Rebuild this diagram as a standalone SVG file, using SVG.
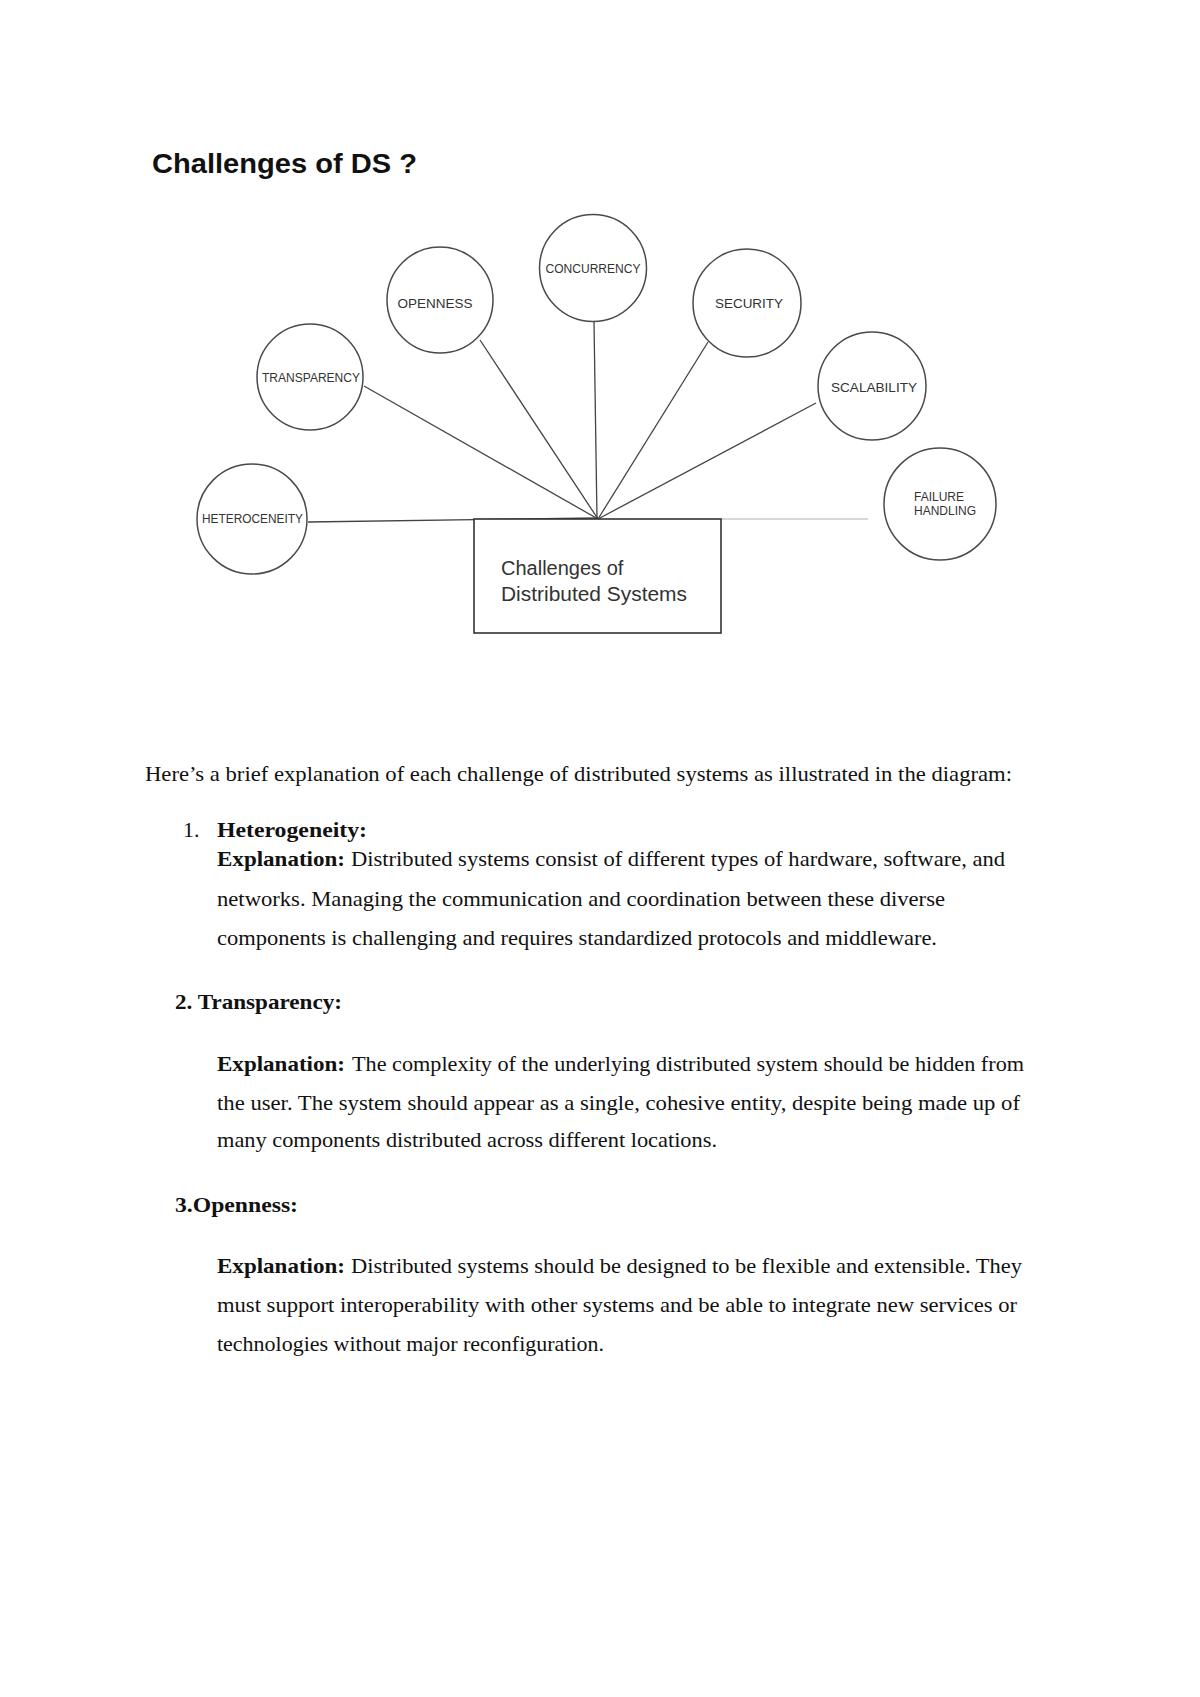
<svg xmlns="http://www.w3.org/2000/svg" width="1200" height="1697" viewBox="0 0 1200 1697">
<style>
.bg{fill:#ffffff}
.title{font-family:"Liberation Sans",Arial,sans-serif;font-weight:bold;font-size:28.5px;fill:#111}
.node circle{fill:#ffffff;stroke:#4a4a4a;stroke-width:1.5}
.lbl{font-family:"Liberation Sans",Arial,sans-serif;fill:#333;text-anchor:middle}
.lbl-l{font-family:"Liberation Sans",Arial,sans-serif;fill:#333;font-size:12px}
.box rect{fill:#ffffff;stroke:#333;stroke-width:1.6}
.boxt{font-family:"Liberation Sans",Arial,sans-serif;font-size:20px;fill:#333}
.conn line{stroke:#444;stroke-width:1.3}
.conn line.faint{stroke:#b0b0b0;stroke-width:1}
.body{font-family:"Liberation Serif","Times New Roman",serif;font-size:22px;fill:#111}
.b{font-weight:bold}
</style>
<rect class="bg" x="0" y="0" width="1200" height="1697"/>
<text class="title" x="152" y="173" textLength="265" lengthAdjust="spacingAndGlyphs">Challenges of DS ?</text>

<g id="connectors" class="conn">
<line x1="308" y1="522" x2="598" y2="518"/>
<line x1="364" y1="386" x2="598" y2="519"/>
<line x1="480" y1="340" x2="598" y2="519"/>
<line x1="594" y1="322" x2="597" y2="519"/>
<line x1="708" y1="342" x2="598" y2="519"/>
<line x1="816" y1="403" x2="598" y2="519"/>
<line class="faint" x1="721" y1="519" x2="868" y2="519"/>
</g>

<g id="node-center" class="box">
<rect x="474" y="519" width="247" height="114"/>
<text class="boxt" x="501" y="575">Challenges of</text>
<text class="boxt" x="501" y="601" textLength="186" lengthAdjust="spacingAndGlyphs">Distributed Systems</text>
</g>

<g id="node-concurrency" class="node">
<circle cx="593" cy="268" r="53.5"/>
<text class="lbl" x="593" y="273" font-size="12" textLength="95" lengthAdjust="spacingAndGlyphs">CONCURRENCY</text>
</g>
<g id="node-openness" class="node">
<circle cx="440" cy="300" r="53"/>
<text class="lbl" x="435" y="308" font-size="13" textLength="75" lengthAdjust="spacingAndGlyphs">OPENNESS</text>
</g>
<g id="node-security" class="node">
<circle cx="747" cy="303" r="54"/>
<text class="lbl" x="749" y="308" font-size="13" textLength="68" lengthAdjust="spacingAndGlyphs">SECURITY</text>
</g>
<g id="node-transparency" class="node">
<circle cx="310" cy="377" r="53"/>
<text class="lbl" x="311" y="382" font-size="12" textLength="98" lengthAdjust="spacingAndGlyphs">TRANSPARENCY</text>
</g>
<g id="node-scalability" class="node">
<circle cx="872" cy="386" r="54"/>
<text class="lbl" x="874" y="392" font-size="13" textLength="86" lengthAdjust="spacingAndGlyphs">SCALABILITY</text>
</g>
<g id="node-heterogeneity" class="node">
<circle cx="252" cy="519" r="55"/>
<text class="lbl" x="252.5" y="523" font-size="12" textLength="101" lengthAdjust="spacingAndGlyphs">HETEROCENEITY</text>
</g>
<g id="node-failure" class="node">
<circle cx="940" cy="504" r="56"/>
<text class="lbl-l" x="914" y="501">FAILURE</text>
<text class="lbl-l" x="914" y="515" textLength="62" lengthAdjust="spacingAndGlyphs">HANDLING</text>
</g>

<g id="explanation">
<text class="body" x="145" y="781" textLength="867" lengthAdjust="spacingAndGlyphs">Here’s a brief explanation of each challenge of distributed systems as illustrated in the diagram:</text>
<text class="body" x="183" y="837">1.</text>
<text class="body b" x="217" y="837" textLength="150" lengthAdjust="spacingAndGlyphs">Heterogeneity:</text>
<text class="body b" x="217" y="866" textLength="128" lengthAdjust="spacingAndGlyphs">Explanation:</text>
<text class="body" x="351" y="866" textLength="654" lengthAdjust="spacingAndGlyphs">Distributed systems consist of different types of hardware, software, and</text>
<text class="body" x="217" y="906" textLength="728" lengthAdjust="spacingAndGlyphs">networks. Managing the communication and coordination between these diverse</text>
<text class="body" x="217" y="945" textLength="720" lengthAdjust="spacingAndGlyphs">components is challenging and requires standardized protocols and middleware.</text>

<text class="body b" x="175" y="1009" textLength="167" lengthAdjust="spacingAndGlyphs">2. Transparency:</text>
<text class="body b" x="217" y="1071" textLength="128" lengthAdjust="spacingAndGlyphs">Explanation:</text>
<text class="body" x="352" y="1071" textLength="672" lengthAdjust="spacingAndGlyphs">The complexity of the underlying distributed system should be hidden from</text>
<text class="body" x="217" y="1110" textLength="803" lengthAdjust="spacingAndGlyphs">the user. The system should appear as a single, cohesive entity, despite being made up of</text>
<text class="body" x="217" y="1147" textLength="500" lengthAdjust="spacingAndGlyphs">many components distributed across different locations.</text>

<text class="body b" x="175" y="1212" textLength="123" lengthAdjust="spacingAndGlyphs">3.Openness:</text>
<text class="body b" x="217" y="1273" textLength="128" lengthAdjust="spacingAndGlyphs">Explanation:</text>
<text class="body" x="351" y="1273" textLength="671" lengthAdjust="spacingAndGlyphs">Distributed systems should be designed to be flexible and extensible. They</text>
<text class="body" x="217" y="1312" textLength="800" lengthAdjust="spacingAndGlyphs">must support interoperability with other systems and be able to integrate new services or</text>
<text class="body" x="217" y="1351" textLength="387" lengthAdjust="spacingAndGlyphs">technologies without major reconfiguration.</text>
</g>
</svg>
